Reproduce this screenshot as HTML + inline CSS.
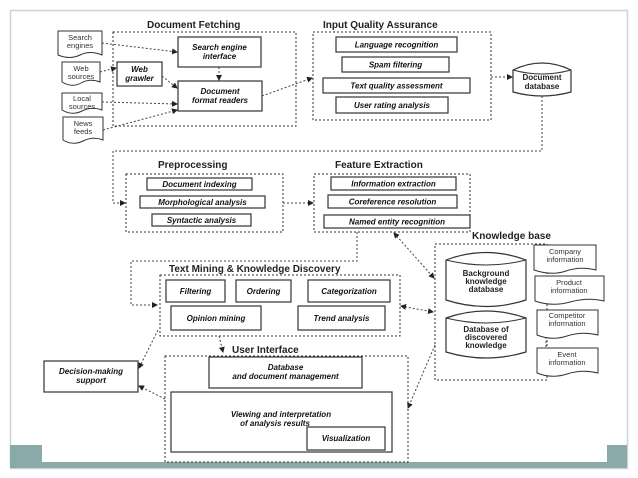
<!DOCTYPE html>
<html><head><meta charset="utf-8"><style>
html,body{margin:0;padding:0;background:#fff;width:638px;height:478px;overflow:hidden}
svg{display:block}
.t{font-family:"Liberation Sans","DejaVu Sans",sans-serif;font-weight:bold;font-size:10px;fill:#222}
.b{font-family:"Liberation Sans","DejaVu Sans",sans-serif;font-weight:bold;font-style:italic;font-size:8px;fill:#111}
.n{font-family:"Liberation Sans","DejaVu Sans",sans-serif;font-size:7.5px;fill:#333}
.nb{font-family:"Liberation Sans","DejaVu Sans",sans-serif;font-weight:bold;font-size:8px;fill:#222}
.d{fill:none;stroke:#333;stroke-width:1;stroke-dasharray:2,2}
.r{fill:#fff;stroke:#333;stroke-width:1.2}
.c{fill:none;stroke:#444;stroke-width:1;stroke-dasharray:2,2}
</style></head><body>
<svg width="638" height="478" viewBox="0 0 638 478" xmlns="http://www.w3.org/2000/svg">
<defs><marker id="a" markerWidth="6" markerHeight="6" refX="5" refY="3" orient="auto"><path d="M0,0 L6,3 L0,6 z" fill="#222"/></marker>
<marker id="s" markerWidth="6" markerHeight="6" refX="1" refY="3" orient="auto"><path d="M6,0 L0,3 L6,6 z" fill="#222"/></marker></defs>
<!-- frame -->
<rect x="10.5" y="10.5" width="617" height="458" fill="none" stroke="#c9d5d7" stroke-width="1.5"/>
<rect x="10" y="462" width="617" height="6" fill="#8aa9a9"/>
<rect x="10" y="445" width="32" height="23" fill="#8aa9a9"/>
<rect x="607" y="445" width="20" height="23" fill="#8aa9a9"/>

<!-- Document Fetching -->
<text class="t" x="147" y="28">Document Fetching</text>
<rect class="d" x="113" y="32" width="183" height="94"/>
<rect class="r" x="178" y="37" width="83" height="30"/>
<text class="b" x="219.5" y="50" text-anchor="middle">Search engine</text>
<text class="b" x="219.5" y="59" text-anchor="middle">interface</text>
<rect class="r" x="117" y="62" width="45" height="24"/>
<text class="b" x="139.5" y="72" text-anchor="middle">Web</text>
<text class="b" x="139.5" y="81" text-anchor="middle">grawler</text>
<rect class="r" x="178" y="81" width="84" height="30"/>
<text class="b" x="220" y="94" text-anchor="middle">Document</text>
<text class="b" x="220" y="103" text-anchor="middle">format readers</text>
<!-- source docs -->
<g fill="#fff" stroke="#333" stroke-width="1">
<path d="M58,31 H102 V55 Q90,50 80,55 T58,55 Z"/>
<path d="M62,62 H100 V82 Q90,78 81,83 T62,82 Z"/>
<path d="M62,93 H102 V110 Q92,106 82,111 T62,110 Z"/>
<path d="M63,117 H103 V140 Q93,136 83,141 T63,140 Z"/>
</g>
<text class="n" x="80" y="40" text-anchor="middle">Search</text>
<text class="n" x="80" y="48" text-anchor="middle">engines</text>
<text class="n" x="81" y="71" text-anchor="middle">Web</text>
<text class="n" x="81" y="79" text-anchor="middle">sources</text>
<text class="n" x="82" y="101" text-anchor="middle">Local</text>
<text class="n" x="82" y="109" text-anchor="middle">sources</text>
<text class="n" x="83" y="126" text-anchor="middle">News</text>
<text class="n" x="83" y="134" text-anchor="middle">feeds</text>
<path class="c" d="M102,43 L177,52" marker-end="url(#a)"/>
<path class="c" d="M100,72 L116,68" marker-end="url(#a)"/>
<path class="c" d="M102,102 L177,104" marker-end="url(#a)"/>
<path class="c" d="M103,130 L177,110" marker-end="url(#a)"/>
<path class="c" d="M162,76 L177,88" marker-end="url(#a)"/>
<path class="c" d="M219,67 L219,80" marker-end="url(#a)"/>
<path class="c" d="M262,96 L312,78" marker-end="url(#a)"/>

<!-- Input Quality Assurance -->
<text class="t" x="323" y="28">Input Quality Assurance</text>
<rect class="d" x="313" y="32" width="178" height="88"/>
<rect class="r" x="336" y="37" width="121" height="15"/>
<text class="b" x="396.5" y="47.5" text-anchor="middle">Language recognition</text>
<rect class="r" x="342" y="57" width="107" height="15"/>
<text class="b" x="395.5" y="67.5" text-anchor="middle">Spam filtering</text>
<rect class="r" x="323" y="78" width="147" height="15"/>
<text class="b" x="396.5" y="88.5" text-anchor="middle">Text quality assessment</text>
<rect class="r" x="336" y="97" width="112" height="16"/>
<text class="b" x="392" y="108" text-anchor="middle">User rating analysis</text>
<path class="c" d="M491,77 L512,77" marker-end="url(#a)"/>
<!-- document database -->
<path d="M513,70 Q542,56 571,70 V92 Q542,100 513,92 Z" fill="#fff" stroke="#333" stroke-width="1.2"/>
<path d="M513,70 Q542,78 571,70" fill="none" stroke="#333"/>
<text class="nb" x="542" y="80" text-anchor="middle" font-size="7.5">Document</text>
<text class="nb" x="542" y="89" text-anchor="middle" font-size="7.5">database</text>
<path class="c" d="M542,96 V151 H113 V203 H125" marker-end="url(#a)"/>

<!-- Preprocessing -->
<text class="t" x="158" y="168">Preprocessing</text>
<rect class="d" x="126" y="174" width="157" height="58"/>
<rect class="r" x="147" y="178" width="105" height="12"/>
<text class="b" x="199.5" y="187" text-anchor="middle">Document indexing</text>
<rect class="r" x="140" y="196" width="125" height="12"/>
<text class="b" x="202.5" y="205" text-anchor="middle">Morphological analysis</text>
<rect class="r" x="152" y="214" width="99" height="12"/>
<text class="b" x="201.5" y="223" text-anchor="middle">Syntactic analysis</text>
<path class="c" d="M283,203 L313,203" marker-end="url(#a)"/>

<!-- Feature Extraction -->
<text class="t" x="335" y="168">Feature Extraction</text>
<rect class="d" x="314" y="174" width="156" height="58"/>
<rect class="r" x="331" y="177" width="125" height="13"/>
<text class="b" x="393.5" y="186.5" text-anchor="middle">Information extraction</text>
<rect class="r" x="328" y="195" width="129" height="13"/>
<text class="b" x="392.5" y="204.5" text-anchor="middle">Coreference resolution</text>
<rect class="r" x="324" y="215" width="146" height="13"/>
<text class="b" x="397" y="224.5" text-anchor="middle">Named entity recognition</text>
<path class="c" d="M357,232 V261 H131 V305 H157" marker-end="url(#a)"/>
<path class="c" d="M394,233 L434,278" marker-start="url(#s)" marker-end="url(#a)"/>

<!-- Text Mining -->
<text class="t" x="169" y="272">Text Mining &amp; Knowledge Discovery</text>
<rect class="d" x="160" y="275" width="240" height="61"/>
<rect class="r" x="166" y="280" width="59" height="22"/>
<text class="b" x="195.5" y="294" text-anchor="middle">Filtering</text>
<rect class="r" x="236" y="280" width="55" height="22"/>
<text class="b" x="263.5" y="294" text-anchor="middle">Ordering</text>
<rect class="r" x="308" y="280" width="82" height="22"/>
<text class="b" x="349" y="294" text-anchor="middle">Categorization</text>
<rect class="r" x="171" y="306" width="90" height="24"/>
<text class="b" x="216" y="321" text-anchor="middle">Opinion mining</text>
<rect class="r" x="298" y="306" width="87" height="24"/>
<text class="b" x="341.5" y="321" text-anchor="middle">Trend analysis</text>
<path class="c" d="M401,306 L433,312" marker-start="url(#s)" marker-end="url(#a)"/>
<path class="c" d="M219,336 L223,352" marker-end="url(#a)"/>
<path class="c" d="M158,330 L139,368" marker-end="url(#a)"/>

<!-- Knowledge base -->
<text class="t" x="472" y="239">Knowledge base</text>
<rect class="d" x="435" y="244" width="112" height="136"/>
<path d="M446,260 Q486,245 526,260 V300 Q486,313 446,300 Z" fill="#fff" stroke="#333" stroke-width="1.2"/>
<path d="M446,260 Q486,270 526,260" fill="none" stroke="#333"/>
<text class="nb" x="486" y="276" text-anchor="middle">Background</text>
<text class="nb" x="486" y="284" text-anchor="middle">knowledge</text>
<text class="nb" x="486" y="292" text-anchor="middle">database</text>
<path d="M446,318 Q486,304 526,318 V352 Q486,364 446,352 Z" fill="#fff" stroke="#333" stroke-width="1.2"/>
<path d="M446,318 Q486,328 526,318" fill="none" stroke="#333"/>
<text class="nb" x="486" y="332" text-anchor="middle">Database of</text>
<text class="nb" x="486" y="340" text-anchor="middle">discovered</text>
<text class="nb" x="486" y="348" text-anchor="middle">knowledge</text>
<g fill="#fff" stroke="#333" stroke-width="1">
<path d="M534,245 H596 V270 Q580,266 566,271 T534,270 Z"/>
<path d="M535,276 H604 V301 Q588,297 570,302 T535,301 Z"/>
<path d="M537,310 H598 V335 Q582,331 567,336 T537,335 Z"/>
<path d="M537,348 H598 V373 Q582,369 567,374 T537,373 Z"/>
</g>
<path class="c" d="M546,337 V348"/>
<text class="n" x="565" y="254" text-anchor="middle">Company</text>
<text class="n" x="565" y="262" text-anchor="middle">information</text>
<text class="n" x="569" y="285" text-anchor="middle">Product</text>
<text class="n" x="569" y="293" text-anchor="middle">information</text>
<text class="n" x="567" y="318" text-anchor="middle">Competitor</text>
<text class="n" x="567" y="326" text-anchor="middle">information</text>
<text class="n" x="567" y="357" text-anchor="middle">Event</text>
<text class="n" x="567" y="365" text-anchor="middle">information</text>
<path class="c" d="M435,345 L408,408" marker-end="url(#a)"/>

<!-- User Interface -->
<text class="t" x="232" y="353">User Interface</text>
<rect class="d" x="165" y="356" width="243" height="106"/>
<rect class="r" x="209" y="357" width="153" height="31"/>
<text class="b" x="285.5" y="370" text-anchor="middle">Database</text>
<text class="b" x="285.5" y="379" text-anchor="middle">and document management</text>
<rect class="r" x="171" y="392" width="221" height="60"/>
<text class="b" x="281" y="417" text-anchor="middle">Viewing and interpretation</text>
<text class="b" x="275" y="426" text-anchor="middle">of analysis results</text>
<rect class="r" x="307" y="427" width="78" height="23"/>
<text class="b" x="346" y="441" text-anchor="middle">Visualization</text>
<path class="c" d="M165,399 L139,386" marker-end="url(#a)"/>

<!-- Decision-making -->
<rect class="r" x="44" y="361" width="94" height="31"/>
<text class="b" x="91" y="374" text-anchor="middle">Decision-making</text>
<text class="b" x="91" y="383" text-anchor="middle">support</text>
</svg>
</body></html>
